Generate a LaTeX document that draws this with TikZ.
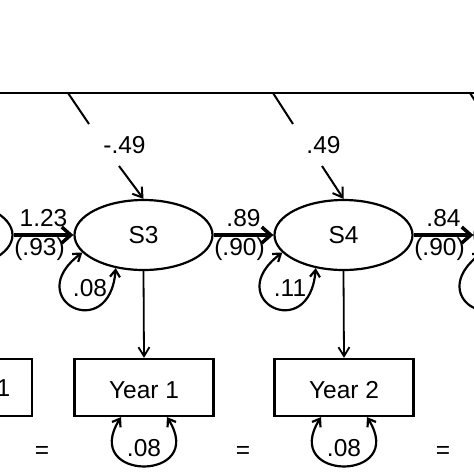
\documentclass[tikz,border=0pt]{standalone}
\usepackage{fontspec}
\setmainfont{Liberation Sans}
\usetikzlibrary{arrows.meta,shapes.geometric}
\begin{document}
\begin{tikzpicture}[x=1pt,y=-1pt,
  every node/.style={font=\fontsize{24.5}{28}\selectfont, inner sep=0pt},
  lat/.style={ellipse, draw, line width=2.2pt, minimum width=138pt, minimum height=70pt},
  obs/.style={rectangle, draw, line width=2.2pt, minimum width=139pt, minimum height=57pt, text height=22.6pt, text depth=0pt},
  regr/.style={line width=3.5pt, -{Straight Barb[length=9pt,width=16pt]}},
  load/.style={line width=1.8pt, -{Straight Barb[length=9pt,width=11pt]}},
  diag/.style={line width=2pt, -{Straight Barb[length=9pt,width=12pt]}},
  res/.style={line width=2.2pt, {Straight Barb[length=7pt,width=10pt]}-{Straight Barb[length=7pt,width=10pt]}},
  bar/.style={line width=2pt},
  uplab/.style={midway, anchor=center, yshift=17pt},
  lowlab/.style={midway, anchor=center, yshift=-14pt, xshift=-4pt},
]
\useasboundingbox (0,0) rectangle (474,474);
\clip (0,0) rectangle (474,474);

% latent variables
\node[lat] (S2) at (-56.5,235) {};
\node[lat] (S3) at (143.5,235) {S3};
\node[lat] (S4) at (343.5,235) {S4};
\node[lat] (S5) at (543.5,235) {};

% observed variables
\node[obs] (Y0) at (-37.5,387.5) {};
\node (Y0t) at (3.5,388) {1};
\node[obs] (Y1) at (144,387.5) {Year 1};
\node[obs] (Y2) at (344,387.5) {Year 2};

% autoregressive paths
\draw[regr] (S2) -- node[uplab] {1.23} node[lowlab] {(.93)} (S3);
\draw[regr] (S3) -- node[uplab] {.89} node[lowlab] {(.90)} (S4);
\draw[regr] (S4) -- node[uplab] {.84} node[lowlab] {(.90)} (S5);

% loadings
\draw[load] (S3.south) -- (Y1.north);
\draw[load] (S4.south) -- (Y2.north);

% top bar and broken paths
\coordinate (barL) at (-10,93);
\coordinate (barR) at (484,93);
\draw[bar] (barL) -- (barR);

\coordinate (t3) at (68,93);
\coordinate (t3e) at (89,124);
\coordinate (t3s) at (119,166);
\node (l3) at (124.5,145) {-.49};
\draw[bar] (t3) -- (t3e);
\draw[diag] (t3s) -- (S3.north);

\coordinate (t4) at (273,93);
\coordinate (t4e) at (293,124);
\coordinate (t4s) at (322,166);
\node (l4) at (323.5,145) {.49};
\draw[bar] (t4) -- (t4e);
\draw[diag] (t4s) -- (S4.north);

\coordinate (t5) at (470,93);
\coordinate (t5e) at (490,124);
\draw[bar] (t5) -- (t5e);

% residual loops on latents
\draw[res] (S3.196) .. controls +(-62,47) and +(-6,77) .. (S3.230);
\node (r3) at (90,288.5) {.08};
\draw[res] (S4.196) .. controls +(-62,47) and +(-6,77) .. (S4.230);
\node (r4) at (290,288.5) {.11};
\draw[res] (S5.196) .. controls +(-62,47) and +(-6,77) .. (S5.230);

% residual loops on observed
\coordinate (y1a) at ([xshift=-23pt]Y1.south);
\coordinate (y1b) at ([xshift=23pt]Y1.south);
\draw[res] (y1a) .. controls +(-41,65) and +(41,65) .. (y1b);
\node (e1) at (144,448) {.08};
\coordinate (y2a) at ([xshift=-23pt]Y2.south);
\coordinate (y2b) at ([xshift=23pt]Y2.south);
\draw[res] (y2a) .. controls +(-41,65) and +(41,65) .. (y2b);
\node (e2) at (344,448) {.08};

% equality signs
\node (q1) at (42,452) {=};
\node (q2) at (243,452) {=};
\node (q3) at (443,452) {=};
\end{tikzpicture}
\end{document}
